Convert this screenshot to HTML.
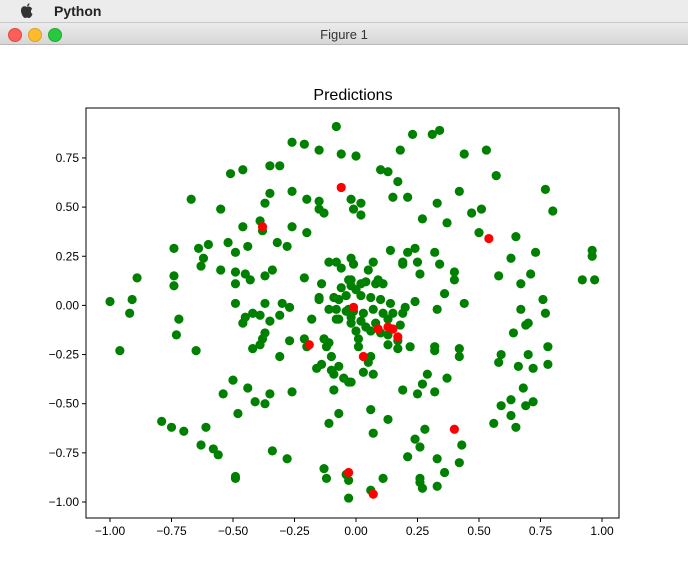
<!DOCTYPE html>
<html><head><meta charset="utf-8"><style>
body{margin:0;width:688px;height:576px;overflow:hidden;background:#fff;font-family:"Liberation Sans",sans-serif}
#menubar{position:absolute;left:0;top:0;width:688px;height:22px;background:#ececec;}
#titlebar{position:absolute;left:0;top:22px;width:688px;height:23px;background:linear-gradient(#ececec,#d6d6d6);border-bottom:1px solid #b8b8b8;border-top:1px solid #c8c8c8;box-sizing:border-box}
.dot{position:absolute;top:5px;width:12px;height:12px;border-radius:50%}
</style></head><body>
<div id="menubar">
<svg style="position:absolute;left:20px;top:2px" width="14" height="17" viewBox="0 0 14 17"><path d="M7 5C5 3.5 1 4 1 8.5 1 12 3.5 16 5 16c1 0 1.3-.5 2-.5s1 .5 2 .5c1.5 0 3-2.5 3.5-4-2-1-2.2-4-.3-5C11 4.5 9 4 7 5z M7 4.5C7 3 8 1.5 9.5 1.2 9.6 2.8 8.5 4.3 7 4.5z" fill="#333"/></svg>
<span style="position:absolute;left:54px;top:3px;font-weight:bold;font-size:14px;color:#222">Python</span>
</div>
<div id="titlebar">
<div class="dot" style="left:8px;background:#fc5f57;border:0.5px solid #de4a42"></div>
<div class="dot" style="left:28px;background:#fdbc2e;border:0.5px solid #dea023"></div>
<div class="dot" style="left:48px;background:#28c840;border:0.5px solid #1eaa32"></div>
<div style="position:absolute;left:0;width:688px;top:4px;text-align:center;font-size:13px;color:#333">Figure 1</div>
</div>
<svg id="chart" style="position:absolute;left:0;top:0" width="688" height="576"></svg>
<script>
const xTicks=[-1.00,-0.75,-0.50,-0.25,0.00,0.25,0.50,0.75,1.00];
const yTicks=[-1.00,-0.75,-0.50,-0.25,0.00,0.25,0.50,0.75];
const greenX=[-0.08,-0.26,-0.21,-0.15,-0.06,-0.51,-0.46,-0.35,-0.31,-0.67,-0.55,-0.26,-0.20,-0.35,-0.37,-0.15,-0.15,-0.13,-0.46,-0.39,-0.38,-0.26,-0.20,-0.32,-0.28,-0.74,-0.64,-0.60,-0.52,-0.49,-0.44,-0.62,-0.63,-0.55,-0.49,-0.45,-0.34,-0.74,-0.89,-0.74,-0.49,-0.43,-0.37,-0.21,-1.00,-0.91,-0.92,-0.49,-0.37,-0.30,-0.15,-0.03,-0.02,-0.06,
0.14,0.21,0.24,0.32,0.19,0.19,0.25,0.34,0.26,0.40,0.40,0.36,0.24,0.33,0.44,0.58,0.67,0.71,0.63,0.73,0.65,0.50,0.47,0.51,0.37,0.27,0.33,0.42,0.57,0.77,0.80,0.96,0.96,0.92,0.97,0.76,0.67,0.77,0.15,0.21,0.17,0.10,0.13,0.18,0.23,0.31,0.34,0.44,0.53,0.00,-0.02,0.02,-0.01,0.02,-0.02,-0.01,-0.02,
-0.72,-0.73,-0.96,-0.65,-0.45,-0.46,-0.42,-0.39,-0.35,-0.31,-0.27,-0.37,-0.38,-0.39,-0.42,-0.27,-0.31,-0.18,-0.21,-0.20,-0.13,-0.11,-0.12,-0.10,-0.14,-0.16,-0.10,-0.09,-0.07,-0.05,-0.03,-0.09,-0.07,-0.11,-0.50,-0.44,-0.54,-0.35,-0.41,-0.37,-0.26,-0.48,-0.79,-0.75,-0.70,-0.61,-0.63,-0.58,-0.56,-0.34,-0.28,-0.13,-0.12,-0.49,-0.49,-0.04,-0.03,-0.03,-0.08,-0.08,-0.11,-0.03,-0.02,
-0.01,0.03,0.02,-0.02,0.07,0.11,0.13,0.08,0.06,0.10,0.15,0.19,0.18,0.13,0.13,0.17,0.17,0.22,0.01,0.01,0.06,0.05,0.03,0.07,-0.02,0.19,0.25,0.27,0.29,0.32,0.37,0.32,0.32,0.42,0.42,0.64,0.69,0.70,0.59,0.58,0.70,0.66,0.72,0.78,0.78,0.68,0.63,0.59,0.63,0.65,0.56,0.69,0.72,0.06,0.13,0.07,0.28,0.24,0.26,0.21,0.33,0.43,0.42,0.36,0.26,0.26,0.27,0.33,0.11,0.06,
-0.09,-0.07,-0.04,0.00,0.02,0.04,0.08,0.02,0.06,0.10,0.14,0.20,-0.04,-0.07,0.00,0.04,0.09,0.11,0.05,0.07,-0.06,-0.11,-0.08,-0.14,-0.15];
const greenY=[0.91,0.83,0.82,0.79,0.77,0.67,0.69,0.71,0.71,0.54,0.49,0.58,0.54,0.57,0.52,0.53,0.49,0.47,0.40,0.43,0.38,0.40,0.37,0.32,0.30,0.29,0.29,0.31,0.32,0.27,0.30,0.24,0.20,0.18,0.17,0.16,0.18,0.15,0.14,0.10,0.11,0.13,0.15,0.14,0.02,0.03,-0.04,0.01,0.01,0.01,0.04,0.13,0.10,0.09,
0.28,0.27,0.29,0.27,0.22,0.21,0.22,0.21,0.16,0.17,0.13,0.06,0.02,-0.02,0.01,0.15,0.11,0.16,0.24,0.27,0.35,0.37,0.47,0.49,0.42,0.44,0.52,0.58,0.66,0.59,0.48,0.28,0.25,0.13,0.13,0.03,-0.02,-0.04,0.55,0.55,0.63,0.69,0.68,0.79,0.87,0.87,0.89,0.77,0.79,0.76,0.54,0.52,0.49,0.46,0.24,0.21,0.13,
-0.07,-0.15,-0.23,-0.23,-0.06,-0.09,-0.04,-0.05,-0.08,-0.05,-0.01,-0.14,-0.17,-0.20,-0.22,-0.18,-0.26,-0.07,-0.17,-0.21,-0.17,-0.19,-0.21,-0.26,-0.30,-0.32,-0.33,-0.35,-0.31,-0.37,-0.39,-0.43,-0.55,-0.60,-0.38,-0.42,-0.45,-0.45,-0.49,-0.50,-0.44,-0.55,-0.59,-0.62,-0.64,-0.62,-0.71,-0.73,-0.76,-0.74,-0.78,-0.83,-0.88,-0.87,-0.88,-0.86,-0.89,-0.98,-0.07,-0.02,-0.02,-0.02,-0.06,
-0.03,-0.04,-0.08,-0.09,-0.02,-0.04,-0.07,-0.09,-0.13,-0.14,-0.04,-0.04,-0.10,-0.15,-0.20,-0.22,-0.18,-0.21,-0.17,-0.21,-0.26,-0.29,-0.34,-0.35,-0.39,-0.43,-0.45,-0.40,-0.35,-0.44,-0.37,-0.21,-0.23,-0.22,-0.26,-0.14,-0.10,-0.09,-0.25,-0.29,-0.25,-0.31,-0.32,-0.21,-0.30,-0.42,-0.48,-0.51,-0.56,-0.62,-0.60,-0.51,-0.49,-0.53,-0.58,-0.65,-0.63,-0.68,-0.72,-0.77,-0.78,-0.71,-0.80,-0.85,-0.88,-0.90,-0.93,-0.92,-0.88,-0.94,
0.04,0.03,0.05,0.08,0.11,0.12,0.11,0.05,0.04,0.03,0.01,-0.01,-0.03,-0.07,-0.13,-0.11,0.13,0.11,0.18,0.22,0.19,0.22,0.22,0.11,0.03];
const redX=[-0.06,-0.38,0.54,-0.19,0.40,-0.03,0.07,0.03,0.13,0.15,0.17,0.09,-0.01];
const redY=[0.60,0.40,0.34,-0.20,-0.63,-0.85,-0.96,-0.26,-0.11,-0.12,-0.16,-0.12,-0.01];
const NS='http://www.w3.org/2000/svg';
const svg=document.getElementById('chart');
const L=86,R=619,T=108,B=518;
const xs=v=>356+v*246;
const ys=v=>305.4-v*196.6;
function mk(t,a){const e=document.createElementNS(NS,t);for(const k in a)e.setAttribute(k,a[k]);svg.appendChild(e);return e;}
const title=mk('text',{x:353,y:100,'text-anchor':'middle','font-size':16,fill:'#000','font-family':'Liberation Sans, sans-serif'});
title.textContent='Predictions';


for(let i=0;i<greenX.length;i++){
 const c=mk('circle',{cx:xs(greenX[i]),cy:ys(greenY[i]),r:4.6,fill:'#008000'});
 
 
}
for(let i=0;i<redX.length;i++){
 const c=mk('circle',{cx:xs(redX[i]),cy:ys(redY[i]),r:4.6,fill:'#ff0000'});
 
 
}
const frame=mk('rect',{x:L,y:T,width:R-L,height:B-T,fill:'none',stroke:'#000','stroke-width':1});


xTicks.forEach(v=>{
 const x=xs(v);
 const tk=mk('line',{x1:x,x2:x,y1:B,y2:B+4,stroke:'#000'});
 
 
 const t=mk('text',{x:x,y:B+17,'text-anchor':'middle','font-size':12,'font-family':'Liberation Sans, sans-serif'});
 t.textContent=(v<0?'\u2212':'')+Math.abs(v).toFixed(2);
 
 
});
yTicks.forEach(v=>{
 const y=ys(v);
 const tk=mk('line',{x1:L-4,x2:L,y1:y,y2:y,stroke:'#000'});
 
 
 const t=mk('text',{x:L-7,y:y+4,'text-anchor':'end','font-size':12,'font-family':'Liberation Sans, sans-serif'});
 t.textContent=(v<0?'\u2212':'')+Math.abs(v).toFixed(2);
 
 
});
</script>
</body></html>
